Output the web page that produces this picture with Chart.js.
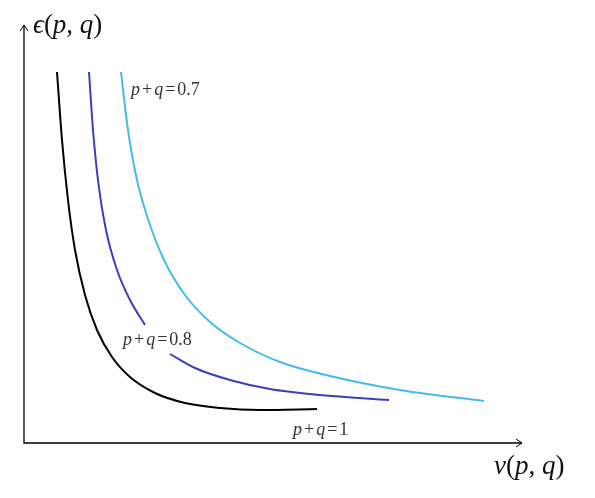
<!DOCTYPE html>
<html>
<head>
<meta charset="utf-8">
<script src="https://cdn.jsdelivr.net/npm/chart.js@4"></script>
<style>
  html, body { margin: 0; padding: 0; background: #fff; }
  #wrap { width: 595px; height: 498px; }
</style>
</head>
<body>
<div id="wrap"><canvas id="c"></canvas></div>
<script>
// curve points (arbitrary units, origin at the axis corner)
const curve1X = [33, 38, 44, 51, 61, 73, 88, 106, 131, 161, 196, 236, 293];
const curve1Y = [371, 303, 243, 193, 148, 113, 86, 66, 50, 40, 35, 33, 34];

const curve08X = [65, 69, 74, 82, 93, 106, 121, 133, 146, 171, 206, 246, 296, 365];
const curve08Y = [371, 313, 263, 213, 173, 143, 118, null, 89, 75, 63, 54, 48, 43];

const curve07X = [97, 104, 113, 126, 141, 161, 186, 216, 256, 306, 376, 460];
const curve07Y = [371, 313, 263, 218, 181, 148, 121, 100, 81, 67, 53, 42];

const curveNames = ['p+q=1', 'p+q=0.8', 'p+q=0.7'];
const curveValues = ['1', '0.8', '0.7'];
const curveColors = ['#000000', '#3b3fb8', '#46bce8'];

function toPoints(xs, ys) {
  return xs.map((x, i) => ({ x: x, y: ys[i] }));
}

// draws text made of pieces, italic letters and upright digits / signs
function mathText(ctx, pieces, x, y, size) {
  let cx = x;
  pieces.forEach(p => {
    ctx.font = (p[1] ? 'italic ' : '') + size + 'px "Liberation Serif"';
    ctx.fillText(p[0], cx, y);
    cx += ctx.measureText(p[0]).width + (p[2] || 0);
  });
}

function pqLabel(value) {
  return [['p', true, 2], ['+', false, 2], ['q', true, 2], ['=', false, 2], [value, false]];
}

const axesPlugin = {
  id: 'axes',
  afterDraw(chart) {
    const ctx = chart.ctx;
    const a = chart.chartArea;
    ctx.save();
    ctx.strokeStyle = '#000';
    ctx.lineWidth = 1.3;
    ctx.beginPath();
    ctx.moveTo(a.left, a.top);
    ctx.lineTo(a.left, a.bottom);
    ctx.lineTo(a.right, a.bottom);
    ctx.stroke();
    // arrow heads
    ctx.lineWidth = 1;
    ctx.beginPath();
    ctx.moveTo(a.left - 4, a.top + 6);
    ctx.lineTo(a.left, a.top);
    ctx.lineTo(a.left + 4, a.top + 6);
    ctx.moveTo(a.right - 6, a.bottom - 4);
    ctx.lineTo(a.right, a.bottom);
    ctx.lineTo(a.right - 6, a.bottom + 4);
    ctx.stroke();

    ctx.fillStyle = '#111';
    ctx.textBaseline = 'alphabetic';
    const axisName = [['\u03f5', true], ['(', false], ['p', true], [', ', false], ['q', true], [')', false]];
    mathText(ctx, axisName, a.left + 9, a.top + 8, 27);
    const axisNameX = [['\u03bd', true], ['(', false], ['p', true], [', ', false], ['q', true], [')', false]];
    mathText(ctx, axisNameX, a.right - 28, a.bottom + 31, 27);

    const xs = chart.scales.x, ys = chart.scales.y;
    ctx.fillStyle = '#333';
    mathText(ctx, pqLabel(curveValues[2]), xs.getPixelForValue(107), ys.getPixelForValue(348), 18);
    mathText(ctx, pqLabel(curveValues[1]), xs.getPixelForValue(99), ys.getPixelForValue(98), 18);
    mathText(ctx, pqLabel(curveValues[0]), xs.getPixelForValue(269), ys.getPixelForValue(8), 18);
    ctx.restore();
  }
};

new Chart(document.getElementById('c'), {
  type: 'line',
  data: {
    datasets: [
      { label: curveNames[0], data: toPoints(curve1X, curve1Y), borderColor: curveColors[0] },
      { label: curveNames[1], data: toPoints(curve08X, curve08Y), borderColor: curveColors[1] },
      { label: curveNames[2], data: toPoints(curve07X, curve07Y), borderColor: curveColors[2] }
    ]
  },
  options: {
    responsive: true,
    maintainAspectRatio: false,
    animation: false,
    spanGaps: false,
    layout: { padding: { left: 24, right: 73, top: 25, bottom: 55 } },
    elements: {
      point: { radius: 0 },
      line: { borderWidth: 2, cubicInterpolationMode: 'monotone', fill: false }
    },
    scales: {
      x: { type: 'linear', min: 0, max: 498, display: false },
      y: { type: 'linear', min: 0, max: 418, display: false }
    },
    plugins: {
      legend: { display: false },
      tooltip: { enabled: false }
    }
  },
  plugins: [axesPlugin]
});
</script>
</body>
</html>
